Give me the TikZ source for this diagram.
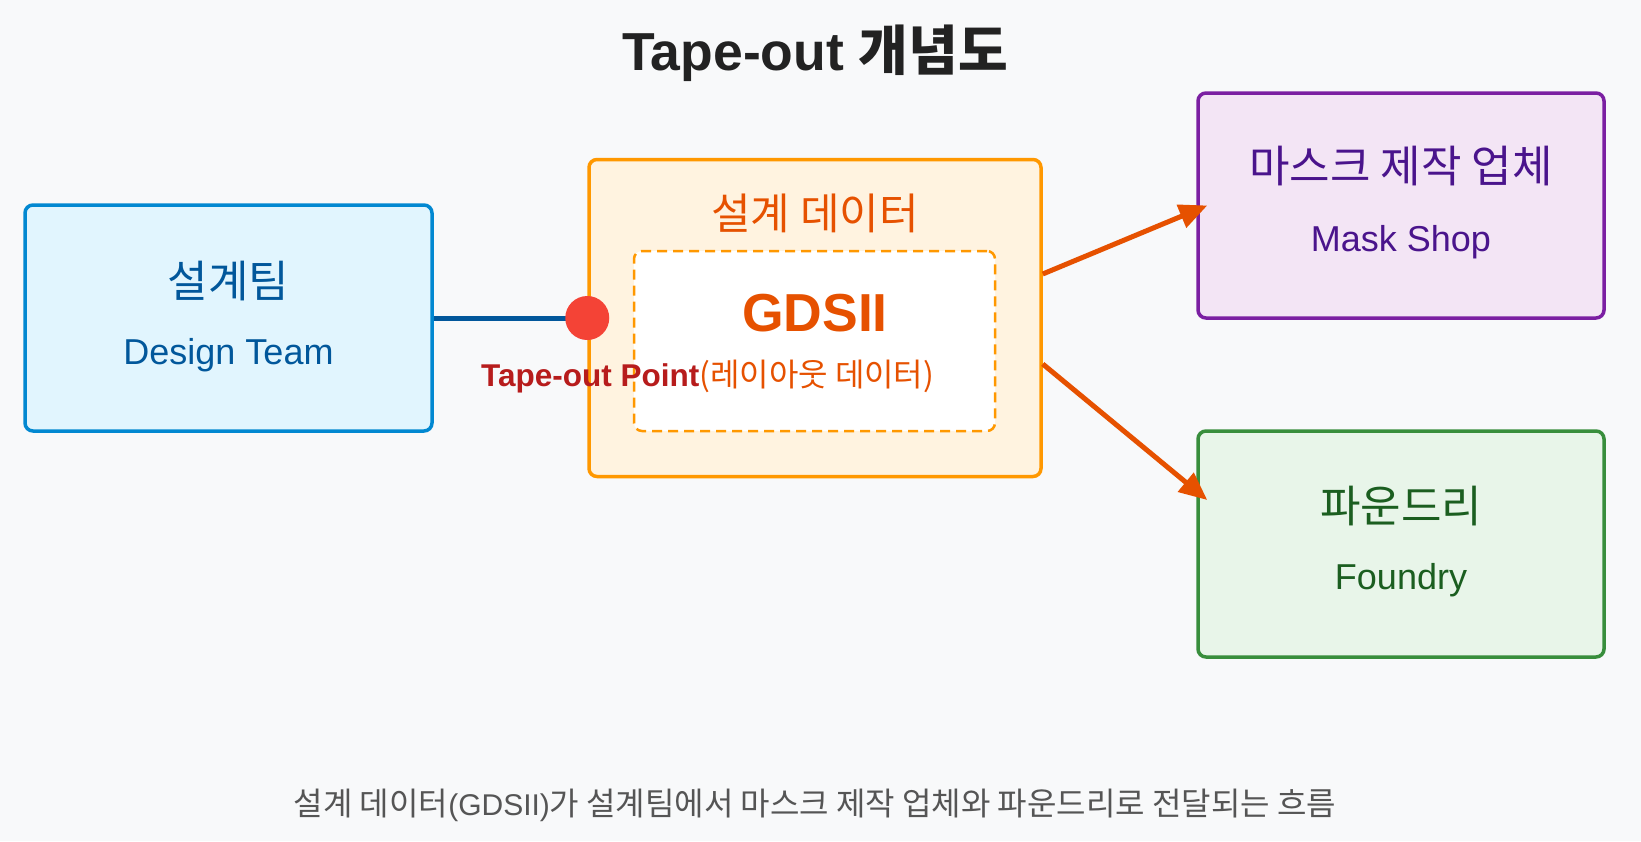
\documentclass[tikz,border=0pt]{standalone}
\usepackage{fontspec}
\setmainfont{Liberation Sans}
\newfontfamily\kr{Noto Sans CJK KR}
\usetikzlibrary{arrows.meta,calc}
\definecolor{bgc}{HTML}{F8F9FA}
\definecolor{titlec}{HTML}{222222}
\definecolor{blueS}{HTML}{0288D1}
\definecolor{blueF}{HTML}{E1F5FE}
\definecolor{blueT}{HTML}{01579B}
\definecolor{orS}{HTML}{FF9800}
\definecolor{orF}{HTML}{FFF3E0}
\definecolor{orT}{HTML}{E65100}
\definecolor{puS}{HTML}{7B1FA2}
\definecolor{puF}{HTML}{F3E5F5}
\definecolor{puT}{HTML}{4A148C}
\definecolor{grS}{HTML}{388E3C}
\definecolor{grF}{HTML}{E8F5E9}
\definecolor{grT}{HTML}{1B5E20}
\definecolor{redc}{HTML}{F44336}
\definecolor{tpred}{HTML}{B71C1C}
\definecolor{capc}{HTML}{555555}
\begin{document}
\begin{tikzpicture}[x=1pt,y=-1pt,
  box/.style={draw, rectangle, rounded corners=8pt, line width=3.5pt, inner sep=0pt},
  lbl/.style={anchor=base, inner sep=0pt},
  arr/.style={draw=orT, line width=5pt, -{Triangle[length=28pt,width=24pt]}, orT}
]
\fill[bgc] (0,0) rectangle (1641,841);
\useasboundingbox (0,0) rectangle (1641,841);

% title
\node[lbl, text=titlec] (title) at (815,70) {\fontsize{53.5}{62}\selectfont\bfseries Tape-out {\kr\fontsize{54}{62}\selectfont 개념도}};

% boxes
\node[box, draw=blueS, fill=blueF, minimum width=407pt, minimum height=226pt] (design) at (228.5,318) {};
\node[box, draw=orS, fill=orF, minimum width=452pt, minimum height=317pt] (data) at (815,318) {};
\node[box, draw=orS, fill=white, dashed, dash pattern=on 10pt off 6pt, line width=2.5pt, minimum width=361pt, minimum height=180pt] (gds) at (814.5,341) {};
\node[box, draw=puS, fill=puF, minimum width=406pt, minimum height=225pt] (mask) at (1401,205.5) {};
\node[box, draw=grS, fill=grF, minimum width=406pt, minimum height=226pt] (foundry) at (1401,544) {};

% texts
\node[lbl, text=blueT] (designk) at (228.5,297) {\kr\fontsize{44}{52}\selectfont 설계팀};
\node[lbl, text=blueT] (designe) at (228.5,364) {\fontsize{36}{42}\selectfont Design Team};
\node[lbl, text=orT] (datak) at (815,229) {\kr\fontsize{43}{50}\selectfont 설계 데이터};
\node[lbl, text=orT] (gdsii) at (815,331) {\fontsize{53.5}{62}\selectfont\bfseries GDSII};
\node[lbl, text=puT] (maskk) at (1401,182) {\kr\fontsize{44}{52}\selectfont 마스크 제작 업체};
\node[lbl, text=puT] (maske) at (1401,251) {\fontsize{36}{42}\selectfont Mask Shop};
\node[lbl, text=grT] (foundryk) at (1401,522) {\kr\fontsize{44}{52}\selectfont 파운드리};
\node[lbl, text=grT] (foundrye) at (1401,589) {\fontsize{36}{42}\selectfont Foundry};

% connectors
\draw[blueT, line width=5pt] (design.east) -- (data.west);
\node[circle, fill=redc, minimum size=44pt, inner sep=0pt] (tp) at (data.west) {};
\node[anchor=base west, inner sep=0pt] (tplabel) at (481,386) {\fontsize{31.5}{38}\selectfont{\bfseries\color{tpred}Tape-out Point}{\kr\fontsize{32}{38}\selectfont\color{orT}(레이아웃 데이터)}};

\coordinate (a1s) at ($(data.east)+(0,-44)$);
\coordinate (a1e) at ($(mask.west)+(11,0)$);
\coordinate (a2s) at ($(data.east)+(0,46)$);
\coordinate (a2e) at ($(foundry.west)+(11,-44)$);
\draw[arr] (a1s) -- (a1e);
\draw[arr] (a2s) -- (a2e);

% caption
\node[lbl, text=capc] (caption) at (815,815) {\fontsize{30}{36}\selectfont{\kr\fontsize{32}{36}\selectfont 설계 데이터}(GDSII){\kr\fontsize{32}{36}\selectfont 가 설계팀에서 마스크 제작 업체와 파운드리로 전달되는 흐름}};
\end{tikzpicture}
\end{document}
